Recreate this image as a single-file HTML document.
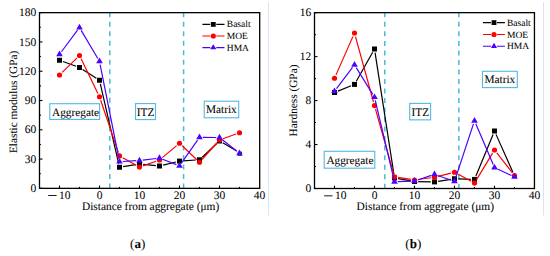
<!DOCTYPE html>
<html><head><meta charset="utf-8"><title>Elastic modulus and hardness vs distance from aggregate</title>
<style>html,body{margin:0;padding:0;background:#fff;width:550px;height:256px;overflow:hidden}svg{display:block}text{font-family:"Liberation Serif",serif;fill:#000;stroke:#000;stroke-width:0.05px;text-rendering:geometricPrecision}</style>
</head><body>
<svg width="550" height="256" viewBox="0 0 550 256">
<rect x="0" y="0" width="550" height="256" fill="#fff"/>
<line x1="268.5" y1="2" x2="268.5" y2="215.5" stroke="#d6e4f3" stroke-width="1"/>
<line x1="543.5" y1="2" x2="543.5" y2="215.5" stroke="#d6e4f3" stroke-width="1"/>
<line x1="109.8" y1="12.65" x2="109.8" y2="188.35" stroke="#48bad8" stroke-width="1.5" stroke-dasharray="5 4.52" stroke-dashoffset="0.52"/>
<line x1="183.6" y1="12.65" x2="183.6" y2="188.35" stroke="#48bad8" stroke-width="1.5" stroke-dasharray="5 4.52" stroke-dashoffset="0.52"/>
<rect x="49.8" y="103.7" width="49.8" height="15.8" fill="#fff" stroke="#52b9e3" stroke-width="1.1"/>
<text x="52" y="115.5" font-size="11.3" text-anchor="start" >Aggregate</text>
<rect x="135.5" y="103.6" width="20" height="16" fill="#fff" stroke="#52b9e3" stroke-width="1.1"/>
<text x="136.8" y="115.9" font-size="11.3" text-anchor="start" >ITZ</text>
<rect x="204.2" y="101.2" width="34.5" height="16.6" fill="#fff" stroke="#52b9e3" stroke-width="1.1"/>
<text x="206" y="112.9" font-size="11.3" text-anchor="start" >Matrix</text>
<rect x="39.5" y="12.65" width="220.2" height="175.7" fill="none" stroke="#000" stroke-width="1.3"/>
<line x1="39.5" y1="188.35" x2="42.5" y2="188.35" stroke="#000" stroke-width="1.1"/>
<line x1="39.5" y1="173.71" x2="40.9" y2="173.71" stroke="#000" stroke-width="1.1"/>
<line x1="39.5" y1="159.07" x2="42.5" y2="159.07" stroke="#000" stroke-width="1.1"/>
<line x1="39.5" y1="144.43" x2="40.9" y2="144.43" stroke="#000" stroke-width="1.1"/>
<line x1="39.5" y1="129.78" x2="42.5" y2="129.78" stroke="#000" stroke-width="1.1"/>
<line x1="39.5" y1="115.14" x2="40.9" y2="115.14" stroke="#000" stroke-width="1.1"/>
<line x1="39.5" y1="100.5" x2="42.5" y2="100.5" stroke="#000" stroke-width="1.1"/>
<line x1="39.5" y1="85.86" x2="40.9" y2="85.86" stroke="#000" stroke-width="1.1"/>
<line x1="39.5" y1="71.22" x2="42.5" y2="71.22" stroke="#000" stroke-width="1.1"/>
<line x1="39.5" y1="56.57" x2="40.9" y2="56.57" stroke="#000" stroke-width="1.1"/>
<line x1="39.5" y1="41.93" x2="42.5" y2="41.93" stroke="#000" stroke-width="1.1"/>
<line x1="39.5" y1="27.29" x2="40.9" y2="27.29" stroke="#000" stroke-width="1.1"/>
<line x1="39.5" y1="12.65" x2="42.5" y2="12.65" stroke="#000" stroke-width="1.1"/>
<text x="36.3" y="191.95" font-size="11.5" text-anchor="end" >0</text>
<text x="36.3" y="162.67" font-size="11.5" text-anchor="end" >30</text>
<text x="36.3" y="133.38" font-size="11.5" text-anchor="end" >60</text>
<text x="36.3" y="104.1" font-size="11.5" text-anchor="end" >90</text>
<text x="36.3" y="74.82" font-size="11.5" text-anchor="end" >120</text>
<text x="36.3" y="45.53" font-size="11.5" text-anchor="end" >150</text>
<text x="36.3" y="16.25" font-size="11.5" text-anchor="end" >180</text>
<line x1="59.5" y1="188.35" x2="59.5" y2="185.55" stroke="#000" stroke-width="1.1"/>
<line x1="79.5" y1="188.35" x2="79.5" y2="186.85" stroke="#000" stroke-width="1.1"/>
<line x1="99.5" y1="188.35" x2="99.5" y2="185.55" stroke="#000" stroke-width="1.1"/>
<line x1="119.5" y1="188.35" x2="119.5" y2="186.85" stroke="#000" stroke-width="1.1"/>
<line x1="139.5" y1="188.35" x2="139.5" y2="185.55" stroke="#000" stroke-width="1.1"/>
<line x1="159.5" y1="188.35" x2="159.5" y2="186.85" stroke="#000" stroke-width="1.1"/>
<line x1="179.5" y1="188.35" x2="179.5" y2="185.55" stroke="#000" stroke-width="1.1"/>
<line x1="199.5" y1="188.35" x2="199.5" y2="186.85" stroke="#000" stroke-width="1.1"/>
<line x1="219.5" y1="188.35" x2="219.5" y2="185.55" stroke="#000" stroke-width="1.1"/>
<line x1="239.5" y1="188.35" x2="239.5" y2="186.85" stroke="#000" stroke-width="1.1"/>
<text x="59" y="199.3" font-size="11.5" text-anchor="start" >10</text>
<rect x="48.2" y="195" width="8.4" height="0.9" fill="#000"/>
<text x="99.5" y="199.3" font-size="11.5" text-anchor="middle" >0</text>
<text x="139.5" y="199.3" font-size="11.5" text-anchor="middle" >10</text>
<text x="179.5" y="199.3" font-size="11.5" text-anchor="middle" >20</text>
<text x="219.5" y="199.3" font-size="11.5" text-anchor="middle" >30</text>
<text x="259.5" y="199.3" font-size="11.5" text-anchor="middle" >40</text>
<text x="150.6" y="210.3" font-size="11.4" text-anchor="middle" >Distance from aggregate (&#956;m)</text>
<text x="0" y="0" font-size="11.3" text-anchor="middle" transform="translate(16.5,101.9) rotate(-90)">Elastic modulus (GPa)</text>
<text x="137.7" y="248" font-size="13" text-anchor="middle">(<tspan font-weight="bold">a</tspan>)</text>
<path d="M62.98 61.51L76.02 66.24M82.62 69.49L96.38 78.26M100.33 83.86L118.67 163.64M123.15 166.66L135.85 164.59M143.18 164.37L155.82 165.63M163.09 165.12L175.91 161.98M183.19 160.85L195.81 160M202.2 157.22L216.8 143.53M222.71 142.84L236.29 150.66" fill="none" stroke="#000000" stroke-width="1.2"/>
<rect x="57" y="57.75" width="5" height="5" fill="#000000"/>
<rect x="77" y="65" width="5" height="5" fill="#000000"/>
<rect x="97" y="77.75" width="5" height="5" fill="#000000"/>
<rect x="117" y="164.75" width="5" height="5" fill="#000000"/>
<rect x="137" y="161.5" width="5" height="5" fill="#000000"/>
<rect x="157" y="163.5" width="5" height="5" fill="#000000"/>
<rect x="177" y="158.6" width="5" height="5" fill="#000000"/>
<rect x="197" y="157.25" width="5" height="5" fill="#000000"/>
<rect x="217" y="138.5" width="5" height="5" fill="#000000"/>
<rect x="237.8" y="151.7" width="4" height="4" fill="#000000"/>
<path d="M62.15 72.42L76.85 58.08M81.11 58.83L97.89 93.42M100.69 100.26L118.31 152.39M122.73 157.71L136.27 165.29M142.99 165.86L156.01 161.24M162.34 157.62L176.66 145.63M182.18 145.8L196.82 159.7M201.97 159.5L217.03 142.75M222.98 138.74L236.02 134.01" fill="none" stroke="#ff0000" stroke-width="1.2"/>
<circle cx="59.5" cy="75" r="2.6" fill="#ff0000"/>
<circle cx="79.5" cy="55.5" r="2.6" fill="#ff0000"/>
<circle cx="99.5" cy="96.75" r="2.6" fill="#ff0000"/>
<circle cx="119.5" cy="155.9" r="2.6" fill="#ff0000"/>
<circle cx="139.5" cy="167.1" r="2.6" fill="#ff0000"/>
<circle cx="159.5" cy="160" r="2.6" fill="#ff0000"/>
<circle cx="179.5" cy="143.25" r="2.6" fill="#ff0000"/>
<circle cx="199.5" cy="162.25" r="2.6" fill="#ff0000"/>
<circle cx="219.5" cy="140" r="2.6" fill="#ff0000"/>
<circle cx="239.5" cy="132.75" r="2.6" fill="#ff0000"/>
<path d="M61.47 51.75L77.53 30.15M81.18 30.34L97.82 58.46M100.14 64.54L118.86 158.46M122.79 161.5L136.21 160.7M142.78 160.11L156.22 158.49M162.58 159.29L176.42 164.61M181.4 163.1L197.6 140.1M202.8 137.42L216.2 137.48M222.09 139.55L236.91 151.25" fill="none" stroke="#4c00ff" stroke-width="1.2"/>
<path d="M59.5 50.6L62.8 56.3L56.2 56.3Z" fill="#4c00ff"/>
<path d="M79.5 23.7L82.8 29.4L76.2 29.4Z" fill="#4c00ff"/>
<path d="M99.5 57.5L102.8 63.2L96.2 63.2Z" fill="#4c00ff"/>
<path d="M119.5 157.9L122.8 163.6L116.2 163.6Z" fill="#4c00ff"/>
<path d="M139.5 156.7L142.8 162.4L136.2 162.4Z" fill="#4c00ff"/>
<path d="M159.5 154.3L162.8 160L156.2 160Z" fill="#4c00ff"/>
<path d="M179.5 162L182.8 167.7L176.2 167.7Z" fill="#4c00ff"/>
<path d="M199.5 133.6L202.8 139.3L196.2 139.3Z" fill="#4c00ff"/>
<path d="M219.5 133.7L222.8 139.4L216.2 139.4Z" fill="#4c00ff"/>
<path d="M239.5 149.5L242.8 155.2L236.2 155.2Z" fill="#4c00ff"/>
<path d="M202.4 24.4H210.3M216.3 24.4H224.5" stroke="#000000" stroke-width="1.1"/>
<rect x="210.9" y="22" width="4.8" height="4.8" fill="#000000"/>
<text x="226.8" y="27.4" font-size="9.5" text-anchor="start" >Basalt</text>
<path d="M202.4 36H210.3M216.3 36H224.5" stroke="#ff0000" stroke-width="1.1"/>
<circle cx="213.3" cy="36" r="2.6" fill="#ff0000"/>
<text x="226.8" y="39" font-size="9.5" text-anchor="start" >MOE</text>
<path d="M202.4 47.6H210.3M216.3 47.6H224.5" stroke="#4c00ff" stroke-width="1.1"/>
<path d="M213.3 44.13L216.4 49.33L210.2 49.33Z" fill="#4c00ff"/>
<text x="226.8" y="50.6" font-size="9.5" text-anchor="start" >HMA</text>
<line x1="384.8" y1="12.65" x2="384.8" y2="188.5" stroke="#48bad8" stroke-width="1.5" stroke-dasharray="5 4.52" stroke-dashoffset="0.32"/>
<line x1="458.85" y1="12.65" x2="458.85" y2="188.5" stroke="#48bad8" stroke-width="1.5" stroke-dasharray="5 4.52" stroke-dashoffset="0.32"/>
<rect x="324.2" y="151.3" width="50.6" height="16.9" fill="#fff" stroke="#52b9e3" stroke-width="1.1"/>
<text x="326.4" y="163.8" font-size="11.3" text-anchor="start" >Aggregate</text>
<rect x="409.7" y="103.4" width="20.9" height="16.45" fill="#fff" stroke="#52b9e3" stroke-width="1.1"/>
<text x="411.6" y="116" font-size="11.3" text-anchor="start" >ITZ</text>
<rect x="482.5" y="71.3" width="34.8" height="16.3" fill="#fff" stroke="#52b9e3" stroke-width="1.1"/>
<text x="484.5" y="83" font-size="11.3" text-anchor="start" >Matrix</text>
<rect x="314.5" y="12.65" width="219.95" height="175.85" fill="none" stroke="#000" stroke-width="1.3"/>
<line x1="314.5" y1="188.5" x2="317.5" y2="188.5" stroke="#000" stroke-width="1.1"/>
<line x1="314.5" y1="166.52" x2="315.9" y2="166.52" stroke="#000" stroke-width="1.1"/>
<line x1="314.5" y1="144.54" x2="317.5" y2="144.54" stroke="#000" stroke-width="1.1"/>
<line x1="314.5" y1="122.56" x2="315.9" y2="122.56" stroke="#000" stroke-width="1.1"/>
<line x1="314.5" y1="100.58" x2="317.5" y2="100.58" stroke="#000" stroke-width="1.1"/>
<line x1="314.5" y1="78.59" x2="315.9" y2="78.59" stroke="#000" stroke-width="1.1"/>
<line x1="314.5" y1="56.61" x2="317.5" y2="56.61" stroke="#000" stroke-width="1.1"/>
<line x1="314.5" y1="34.63" x2="315.9" y2="34.63" stroke="#000" stroke-width="1.1"/>
<line x1="314.5" y1="12.65" x2="317.5" y2="12.65" stroke="#000" stroke-width="1.1"/>
<text x="311.3" y="192.1" font-size="11.5" text-anchor="end" >0</text>
<text x="311.3" y="148.14" font-size="11.5" text-anchor="end" >4</text>
<text x="311.3" y="104.17" font-size="11.5" text-anchor="end" >8</text>
<text x="311.3" y="60.21" font-size="11.5" text-anchor="end" >12</text>
<text x="311.3" y="16.25" font-size="11.5" text-anchor="end" >16</text>
<line x1="334.5" y1="188.5" x2="334.5" y2="185.7" stroke="#000" stroke-width="1.1"/>
<line x1="354.5" y1="188.5" x2="354.5" y2="187" stroke="#000" stroke-width="1.1"/>
<line x1="374.5" y1="188.5" x2="374.5" y2="185.7" stroke="#000" stroke-width="1.1"/>
<line x1="394.5" y1="188.5" x2="394.5" y2="187" stroke="#000" stroke-width="1.1"/>
<line x1="414.5" y1="188.5" x2="414.5" y2="185.7" stroke="#000" stroke-width="1.1"/>
<line x1="434.5" y1="188.5" x2="434.5" y2="187" stroke="#000" stroke-width="1.1"/>
<line x1="454.5" y1="188.5" x2="454.5" y2="185.7" stroke="#000" stroke-width="1.1"/>
<line x1="474.5" y1="188.5" x2="474.5" y2="187" stroke="#000" stroke-width="1.1"/>
<line x1="494.5" y1="188.5" x2="494.5" y2="185.7" stroke="#000" stroke-width="1.1"/>
<line x1="514.5" y1="188.5" x2="514.5" y2="187" stroke="#000" stroke-width="1.1"/>
<text x="335" y="199.3" font-size="11.5" text-anchor="start" >10</text>
<rect x="324.1" y="195.4" width="8.4" height="0.9" fill="#000"/>
<text x="374.5" y="199.3" font-size="11.5" text-anchor="middle" >0</text>
<text x="414.5" y="199.3" font-size="11.5" text-anchor="middle" >10</text>
<text x="454.5" y="199.3" font-size="11.5" text-anchor="middle" >20</text>
<text x="494.5" y="199.3" font-size="11.5" text-anchor="middle" >30</text>
<text x="534.5" y="199.3" font-size="11.5" text-anchor="middle" >40</text>
<text x="425.3" y="210.3" font-size="11.4" text-anchor="middle" >Distance from aggregate (&#956;m)</text>
<text x="0" y="0" font-size="11.3" text-anchor="middle" transform="translate(297.3,100.5) rotate(-90)">Hardness (GPa)</text>
<text x="413.3" y="248" font-size="13" text-anchor="middle">(<tspan font-weight="bold">b</tspan>)</text>
<path d="M337.93 91.11L351.07 85.79M356.32 81.18L372.68 52.22M375.07 52.66L393.93 174.34M398.14 178.64L410.86 180.86M418.2 181.57L430.8 181.83M438.15 181.32L450.85 179.33M458.2 178.87L470.8 179.28M475.91 175.98L493.09 134.42M496.01 134.38L512.99 172.42" fill="none" stroke="#000000" stroke-width="1.2"/>
<rect x="332" y="90" width="5" height="5" fill="#000000"/>
<rect x="352" y="81.9" width="5" height="5" fill="#000000"/>
<rect x="372" y="46.5" width="5" height="5" fill="#000000"/>
<rect x="392" y="175.5" width="5" height="5" fill="#000000"/>
<rect x="412" y="179" width="5" height="5" fill="#000000"/>
<rect x="432" y="179.4" width="5" height="5" fill="#000000"/>
<rect x="452" y="176.25" width="5" height="5" fill="#000000"/>
<rect x="472" y="176.9" width="5" height="5" fill="#000000"/>
<rect x="492" y="128.5" width="5" height="5" fill="#000000"/>
<path d="M336 74.87L353 36.38M355.48 36.57L373.52 102.03M375.5 109.16L393.5 173.24M398.15 177.38L410.85 179.42M418.17 179.5L430.83 177.75M438.09 176.35L450.91 173.15M457.75 174.01L471.25 181.34M476.41 179.93L492.59 153.17M496.78 152.92L512.22 172.68" fill="none" stroke="#ff0000" stroke-width="1.2"/>
<circle cx="334.5" cy="78.25" r="2.6" fill="#ff0000"/>
<circle cx="354.5" cy="33" r="2.6" fill="#ff0000"/>
<circle cx="374.5" cy="105.6" r="2.6" fill="#ff0000"/>
<circle cx="394.5" cy="176.8" r="2.6" fill="#ff0000"/>
<circle cx="414.5" cy="180" r="2.6" fill="#ff0000"/>
<circle cx="434.5" cy="177.25" r="2.6" fill="#ff0000"/>
<circle cx="454.5" cy="172.25" r="2.6" fill="#ff0000"/>
<circle cx="474.5" cy="183.1" r="2.6" fill="#ff0000"/>
<circle cx="494.5" cy="150" r="2.6" fill="#ff0000"/>
<circle cx="514.5" cy="175.6" r="2.6" fill="#ff0000"/>
<path d="M336.49 88.57L352.51 67.43M356.23 67.61L372.77 94.39M375.26 100.41L393.74 178.59M397.8 181.67L411.2 181.13M417.63 179.97L431.37 175.43M437.62 175.48L451.38 180.22M455.54 178.17L473.46 123.93M475.8 123.83L493.2 164.57M497.49 168.99L511.51 175.51" fill="none" stroke="#4c00ff" stroke-width="1.2"/>
<path d="M334.5 87.4L337.8 93.1L331.2 93.1Z" fill="#4c00ff"/>
<path d="M354.5 61L357.8 66.7L351.2 66.7Z" fill="#4c00ff"/>
<path d="M374.5 93.4L377.8 99.1L371.2 99.1Z" fill="#4c00ff"/>
<path d="M394.5 178L397.8 183.7L391.2 183.7Z" fill="#4c00ff"/>
<path d="M414.5 177.2L417.8 182.9L411.2 182.9Z" fill="#4c00ff"/>
<path d="M434.5 170.6L437.8 176.3L431.2 176.3Z" fill="#4c00ff"/>
<path d="M454.5 177.5L457.8 183.2L451.2 183.2Z" fill="#4c00ff"/>
<path d="M474.5 117L477.8 122.7L471.2 122.7Z" fill="#4c00ff"/>
<path d="M494.5 163.8L497.8 169.5L491.2 169.5Z" fill="#4c00ff"/>
<path d="M514.5 173.1L517.8 178.8L511.2 178.8Z" fill="#4c00ff"/>
<path d="M483 22.6H491M497 22.6H504.9" stroke="#000000" stroke-width="1.1"/>
<rect x="491.6" y="20.2" width="4.8" height="4.8" fill="#000000"/>
<text x="507" y="25.6" font-size="9.5" text-anchor="start" >Basalt</text>
<path d="M483 34.5H491M497 34.5H504.9" stroke="#ff0000" stroke-width="1.1"/>
<circle cx="494" cy="34.5" r="2.6" fill="#ff0000"/>
<text x="507" y="37.5" font-size="9.5" text-anchor="start" >MOE</text>
<path d="M483 46.3H491M497 46.3H504.9" stroke="#4c00ff" stroke-width="1.1"/>
<path d="M494 42.83L497.1 48.03L490.9 48.03Z" fill="#4c00ff"/>
<text x="507" y="49.3" font-size="9.5" text-anchor="start" >HMA</text>
</svg>
</body></html>
